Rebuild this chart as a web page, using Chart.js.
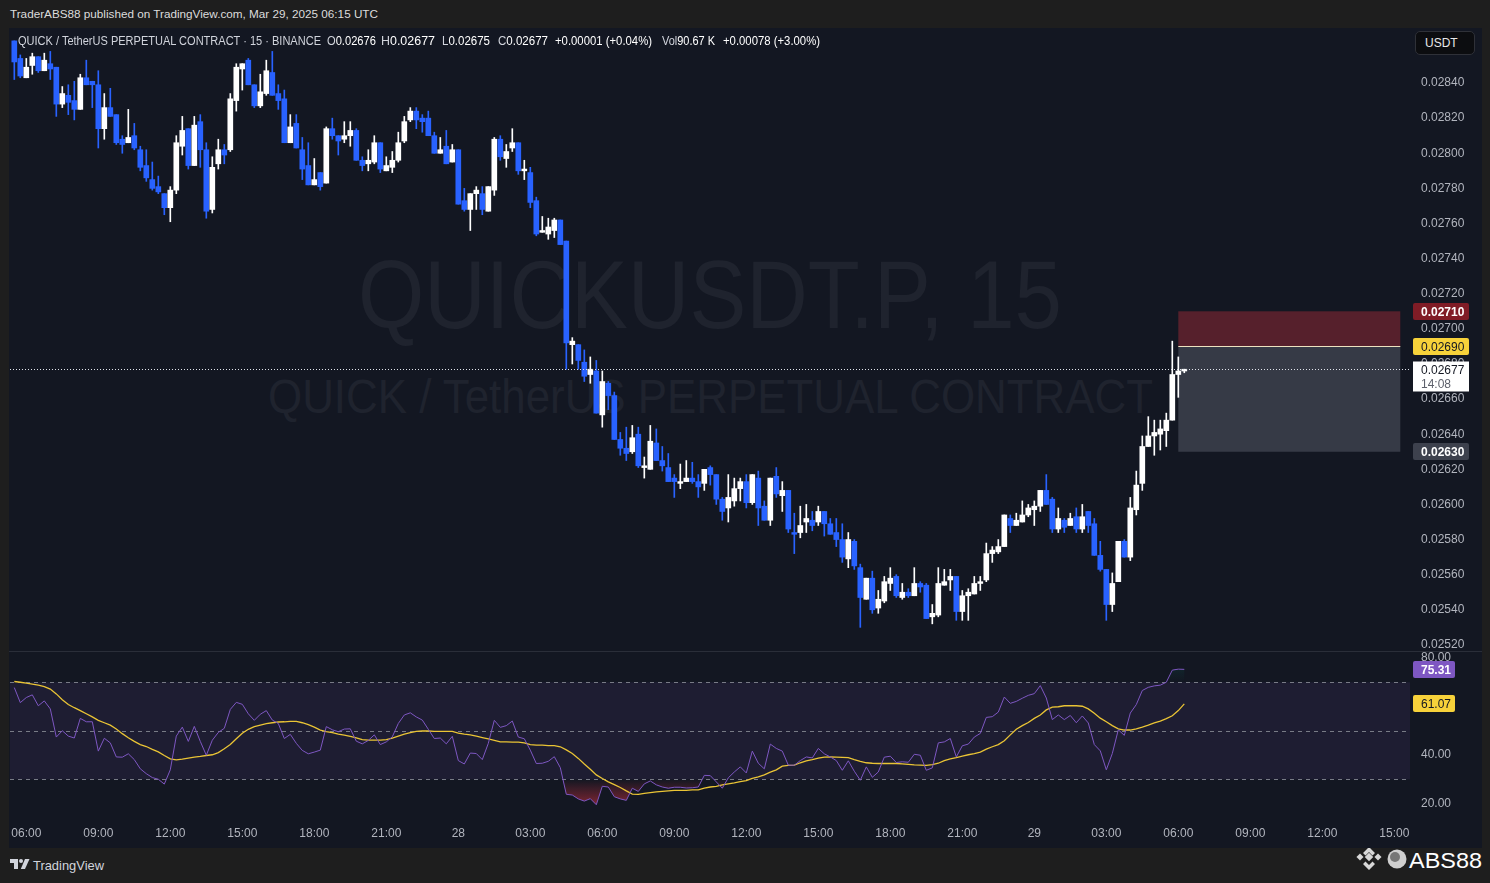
<!DOCTYPE html>
<html>
<head>
<meta charset="utf-8">
<script src="https://cdn.jsdelivr.net/npm/chart.js@4.4.1/dist/chart.umd.min.js"></script>
<style>
  body {
    margin: 0;
    width: 1490px;
    height: 883px;
    background: #1e1e1e;
    position: relative;
    overflow: hidden;
    font-family: 'Liberation Sans', Arial, sans-serif;
  }
  .abs { position: absolute; }
  #panel { left: 9px; top: 28px; width: 1473px; height: 820px; background: #131722; }
  #sep { left: 9px; top: 651px; width: 1473px; height: 1px; background: #2a2e39; }
  #usdt {
    left: 1415px; top: 31px; width: 60px; height: 24px; box-sizing: border-box;
    background: #0c0d10; border: 1px solid #2f3138; border-radius: 5px;
    color: #e8e8e8; font-size: 12px; line-height: 22px; padding-left: 9px;
  }
</style>
</head>
<body>
<div class="abs" id="panel"></div>
<svg class="abs" style="left:0;top:0" width="1490" height="883" font-family="Liberation Sans, Arial, sans-serif">
  <text x="10" y="18" font-size="11.5" fill="#dcdcdc" textLength="368" lengthAdjust="spacingAndGlyphs">TraderABS88 published on TradingView.com, Mar 29, 2025 06:15 UTC</text>
  <text x="358" y="328" font-size="96" fill="#1f232e" textLength="704" lengthAdjust="spacingAndGlyphs">QUICKUSDT.P, 15</text>
  <text x="268" y="413" font-size="48" fill="#1f232e" textLength="885" lengthAdjust="spacingAndGlyphs">QUICK / TetherUS PERPETUAL CONTRACT</text>
</svg>
<div class="abs" id="sep"></div>
<canvas id="price" class="abs" width="1472" height="620" style="left:10px;top:30px"></canvas>
<canvas id="rsi" class="abs" width="1472" height="196" style="left:10px;top:652px"></canvas>
<svg class="abs" style="left:0;top:0" width="830" height="55" font-family="Liberation Sans, Arial, sans-serif" font-size="12">
  <text x="18" y="45" fill="#d1d4dc" textLength="303" lengthAdjust="spacingAndGlyphs">QUICK / TetherUS PERPETUAL CONTRACT · 15 · BINANCE</text>
  <text x="327" y="45" textLength="49" lengthAdjust="spacingAndGlyphs"><tspan fill="#d1d4dc">O</tspan><tspan fill="#fff">0.02676</tspan></text>
  <text x="381" y="45" textLength="54" lengthAdjust="spacingAndGlyphs"><tspan fill="#d1d4dc">H</tspan><tspan fill="#fff">0.02677</tspan></text>
  <text x="442" y="45" textLength="48" lengthAdjust="spacingAndGlyphs"><tspan fill="#d1d4dc">L</tspan><tspan fill="#fff">0.02675</tspan></text>
  <text x="498" y="45" textLength="50" lengthAdjust="spacingAndGlyphs"><tspan fill="#d1d4dc">C</tspan><tspan fill="#fff">0.02677</tspan></text>
  <text x="555" y="45" fill="#fff" textLength="97" lengthAdjust="spacingAndGlyphs">+0.00001 (+0.04%)</text>
  <text x="662" y="45" textLength="53" lengthAdjust="spacingAndGlyphs"><tspan fill="#d1d4dc">Vol</tspan><tspan fill="#fff">90.67 K</tspan></text>
  <text x="723" y="45" fill="#fff" textLength="97" lengthAdjust="spacingAndGlyphs">+0.00078 (+3.00%)</text>
</svg>
<div class="abs" id="usdt">USDT</div>
<svg class="abs" style="left:0;top:848px" width="1490" height="35" font-family="Liberation Sans, Arial, sans-serif">
  <g fill="#d1d4dc" transform="translate(10,11)">
    <path d="M0 0h8v10h-4v-6H0z"/>
    <circle cx="11" cy="2" r="2"/>
    <path d="M15 0h4.5l-4.5 10h-4.2z"/>
  </g>
  <text x="33" y="22" font-size="13" fill="#d1d4dc" textLength="71" lengthAdjust="spacingAndGlyphs">TradingView</text>
  <g fill="#d8d8d8" transform="translate(1369,9)">
    <rect x="-3" y="-3" width="6" height="6" transform="rotate(45)"/>
    <rect x="-2.5" y="-2.5" width="5" height="5" transform="translate(-9,0) rotate(45)"/>
    <rect x="-2.5" y="-2.5" width="5" height="5" transform="translate(9,0) rotate(45)"/>
    <path d="M0 -10l6 6-2.5 2.5L0 -5l-3.5 3.5L-6 -4z"/>
    <path d="M0 10l6-6-2.5-2.5L0 5l-3.5-3.5L-6 4z" transform="translate(0,3)"/>
  </g>
  <circle cx="1397" cy="11" r="9.5" fill="#cfcfcf"/>
  <circle cx="1395" cy="9" r="5" fill="#777"/>
  <text x="1409" y="20" font-size="22" fill="#ffffff" textLength="73" lengthAdjust="spacingAndGlyphs">ABS88</text>
</svg>
<script>
// QUICKUSDT.P 15m candles, Mar 27 05:30 -> Mar 29 06:15 UTC.
// Prices in units of 0.00001 USDT.
const opens = [
  2864, 2854, 2843, 2850, 2855, 2847, 2851, 2849, 2828, 2833,
  2830, 2825, 2843, 2841, 2839, 2814, 2826, 2822, 2808, 2806,
  2810, 2802, 2793, 2785, 2781, 2777, 2769, 2779, 2804, 2814,
  2793, 2818, 2802, 2768, 2794, 2802, 2802, 2830, 2848, 2853,
  2839, 2827, 2834, 2846, 2834, 2831, 2806, 2817, 2802, 2793,
  2782, 2789, 2783, 2814, 2810, 2808, 2810, 2813, 2796, 2794,
  2795, 2806, 2790, 2792, 2796, 2807, 2819, 2824, 2820, 2820,
  2810, 2800, 2804, 2795, 2802, 2773, 2768, 2777, 2777, 2767,
  2779, 2808, 2797, 2803, 2806, 2790, 2789, 2773, 2755, 2754,
  2756, 2762, 2750, 2691, 2691, 2681, 2674, 2676, 2651, 2669,
  2662, 2637, 2632, 2630, 2640, 2621, 2620, 2635, 2625, 2621,
  2615, 2612, 2613, 2615, 2613, 2612, 2621, 2617, 2603, 2598,
  2602, 2609, 2613, 2601, 2615, 2599, 2591, 2616, 2605, 2608,
  2584, 2584, 2590, 2591, 2590, 2596, 2589, 2584, 2580, 2569,
  2579, 2564, 2546, 2558, 2541, 2545, 2555, 2559, 2547, 2550,
  2548, 2555, 2554, 2536, 2537, 2554, 2557, 2559, 2539, 2548,
  2549, 2555, 2557, 2572, 2573, 2576, 2592, 2588, 2590, 2594,
  2597, 2599, 2608, 2603, 2586, 2591, 2588, 2593, 2586, 2596,
  2589, 2571, 2563, 2543, 2556, 2579, 2570, 2597, 2612, 2633,
  2639, 2640, 2642, 2648, 2674, 2676,
];
const highs = [
  2864, 2856, 2854, 2857, 2855, 2857, 2858, 2849, 2838, 2839,
  2841, 2845, 2853, 2841, 2847, 2834, 2837, 2822, 2810, 2825,
  2817, 2804, 2802, 2795, 2787, 2777, 2781, 2810, 2821, 2814,
  2821, 2822, 2806, 2798, 2808, 2805, 2834, 2851, 2851, 2854,
  2839, 2845, 2853, 2858, 2839, 2836, 2822, 2822, 2809, 2806,
  2797, 2789, 2815, 2820, 2810, 2818, 2818, 2814, 2798, 2802,
  2810, 2806, 2798, 2801, 2812, 2821, 2826, 2826, 2822, 2824,
  2812, 2809, 2813, 2805, 2802, 2780, 2777, 2781, 2781, 2781,
  2809, 2810, 2805, 2814, 2806, 2796, 2792, 2775, 2764, 2763,
  2763, 2762, 2750, 2695, 2691, 2688, 2684, 2682, 2676, 2670,
  2664, 2641, 2644, 2645, 2644, 2627, 2645, 2643, 2633, 2629,
  2617, 2623, 2625, 2624, 2617, 2620, 2622, 2617, 2604, 2617,
  2615, 2615, 2617, 2617, 2619, 2602, 2615, 2621, 2613, 2608,
  2595, 2599, 2600, 2596, 2599, 2596, 2592, 2592, 2589, 2584,
  2580, 2566, 2558, 2562, 2551, 2559, 2564, 2560, 2555, 2552,
  2564, 2556, 2555, 2543, 2564, 2563, 2563, 2559, 2551, 2552,
  2559, 2559, 2578, 2576, 2580, 2594, 2594, 2595, 2602, 2600,
  2602, 2608, 2617, 2604, 2598, 2592, 2595, 2598, 2600, 2596,
  2592, 2579, 2563, 2561, 2579, 2580, 2604, 2619, 2639, 2650,
  2648, 2648, 2652, 2693, 2684, 2677,
];
const lows = [
  2842, 2843, 2843, 2845, 2846, 2847, 2842, 2821, 2826, 2822,
  2819, 2825, 2839, 2826, 2803, 2808, 2821, 2805, 2800, 2806,
  2802, 2790, 2784, 2779, 2777, 2765, 2761, 2777, 2799, 2791,
  2793, 2792, 2763, 2766, 2791, 2794, 2801, 2824, 2836, 2839,
  2826, 2826, 2833, 2833, 2825, 2806, 2806, 2803, 2785, 2782,
  2782, 2779, 2783, 2808, 2799, 2806, 2804, 2796, 2790, 2790,
  2794, 2789, 2790, 2789, 2795, 2806, 2818, 2814, 2812, 2810,
  2800, 2800, 2794, 2795, 2771, 2767, 2756, 2768, 2765, 2767,
  2776, 2796, 2792, 2801, 2788, 2785, 2769, 2753, 2755, 2751,
  2752, 2748, 2677, 2680, 2677, 2670, 2669, 2652, 2644, 2654,
  2637, 2628, 2625, 2629, 2621, 2615, 2620, 2625, 2619, 2613,
  2604, 2609, 2613, 2612, 2604, 2608, 2611, 2600, 2591, 2590,
  2599, 2602, 2598, 2600, 2588, 2591, 2588, 2604, 2596, 2584,
  2572, 2581, 2584, 2585, 2588, 2582, 2583, 2576, 2567, 2564,
  2563, 2530, 2546, 2538, 2538, 2544, 2551, 2547, 2546, 2547,
  2548, 2550, 2535, 2532, 2536, 2554, 2551, 2534, 2534, 2534,
  2549, 2551, 2556, 2567, 2572, 2576, 2584, 2588, 2590, 2593,
  2588, 2596, 2600, 2584, 2584, 2584, 2588, 2584, 2584, 2584,
  2571, 2562, 2534, 2539, 2556, 2570, 2568, 2594, 2608, 2633,
  2628, 2631, 2633, 2648, 2661, 2675,
];
const closes = [
  2852, 2844, 2849, 2855, 2847, 2853, 2848, 2828, 2834, 2829,
  2825, 2843, 2839, 2839, 2814, 2826, 2821, 2806, 2805, 2809,
  2803, 2792, 2786, 2780, 2778, 2769, 2779, 2806, 2813, 2793,
  2816, 2802, 2767, 2792, 2802, 2799, 2831, 2849, 2851, 2839,
  2827, 2835, 2847, 2833, 2830, 2806, 2815, 2803, 2791, 2782,
  2785, 2781, 2814, 2810, 2807, 2810, 2813, 2796, 2793, 2796,
  2806, 2791, 2793, 2796, 2806, 2818, 2824, 2819, 2818, 2810,
  2800, 2802, 2794, 2802, 2771, 2768, 2777, 2779, 2768, 2781,
  2808, 2798, 2801, 2806, 2790, 2791, 2772, 2754, 2756, 2758,
  2762, 2748, 2692, 2693, 2682, 2673, 2677, 2652, 2670, 2662,
  2637, 2632, 2629, 2638, 2622, 2622, 2636, 2625, 2622, 2613,
  2613, 2613, 2615, 2613, 2610, 2620, 2617, 2603, 2596, 2604,
  2609, 2613, 2601, 2617, 2598, 2591, 2615, 2606, 2608, 2586,
  2583, 2588, 2592, 2588, 2596, 2589, 2583, 2580, 2570, 2580,
  2565, 2547, 2558, 2540, 2546, 2556, 2558, 2548, 2550, 2548,
  2555, 2553, 2535, 2538, 2555, 2556, 2559, 2539, 2548, 2550,
  2555, 2556, 2572, 2574, 2576, 2594, 2588, 2591, 2594, 2598,
  2599, 2608, 2600, 2586, 2592, 2587, 2592, 2586, 2593, 2588,
  2571, 2563, 2543, 2555, 2579, 2570, 2598, 2611, 2633, 2639,
  2641, 2643, 2648, 2674, 2676, 2677,
];
// RSI 14 and its moving average, one value per candle.
const rsiValues = [
  67.8, 61.6, 63.7, 64.8, 60.3, 62.3, 59.0, 47.4, 50.0, 47.8,
  47.0, 55.1, 53.7, 53.7, 41.6, 46.9, 45.0, 39.2, 39.1, 40.5,
  38.1, 34.3, 32.3, 30.7, 30.0, 28.0, 33.9, 47.8, 51.5, 45.6,
  51.8, 45.6, 39.9, 46.1, 49.3, 51.0, 58.8, 61.7, 60.9, 57.0,
  54.3, 56.8, 58.3, 54.4, 53.0, 46.8, 48.5, 44.8, 41.9, 40.5,
  41.2, 42.0, 51.7, 50.4, 49.6, 50.7, 50.8, 45.7, 44.6, 46.0,
  48.3, 44.3, 45.4, 47.5, 53.0, 56.5, 57.4, 55.7, 54.4, 50.6,
  46.8, 47.0, 44.6, 47.7, 37.7, 36.3, 40.8, 40.6, 38.1, 44.8,
  54.3, 51.4, 52.1, 54.0, 47.4, 46.7, 42.0, 36.5, 36.6, 37.4,
  39.3, 34.8, 23.8, 23.5, 21.9, 21.0, 22.0, 19.5, 27.1, 26.8,
  22.8, 21.9, 21.3, 26.3, 25.0, 28.1, 29.3, 27.7, 26.8, 26.3,
  26.7, 26.7, 26.4, 26.5, 26.8, 31.6, 31.5, 28.9, 26.3, 30.6,
  33.0, 35.1, 32.6, 41.6, 36.6, 34.3, 44.5, 42.7, 41.6, 35.8,
  35.8, 37.7, 39.2, 38.8, 42.7, 40.5, 39.2, 37.7, 33.7, 37.6,
  33.3, 29.6, 35.1, 30.8, 33.0, 39.1, 39.5, 36.9, 37.2, 37.0,
  40.3, 39.9, 33.7, 34.7, 45.0, 45.4, 46.8, 39.2, 43.8, 44.5,
  47.4, 48.9, 55.5, 55.8, 57.7, 63.9, 61.3, 62.1, 63.4, 64.6,
  65.3, 68.6, 63.5, 54.6, 56.5, 54.6, 56.3, 53.3, 56.1, 53.2,
  44.3, 41.7, 33.9, 40.6, 50.4, 48.1, 57.3, 60.8, 66.6, 67.9,
  68.5, 68.8, 70.0, 75.0, 75.4, 75.31,
];
const rsiMa = [
  70.3, 70.0, 69.6, 69.2, 68.8, 68.2, 67.2, 65.2, 62.8, 60.8,
  59.5, 58.3, 57.0, 55.7, 54.3, 53.3, 52.3, 50.7, 48.8, 47.1,
  45.6, 44.3, 43.5, 42.3, 41.3, 39.8, 38.4, 38.0, 38.3, 38.7,
  39.1, 39.4, 39.8, 40.1, 41.0, 42.6, 44.3, 46.7, 49.0, 50.6,
  51.7, 52.3, 52.9, 53.3, 53.6, 53.7, 53.9, 53.9, 53.3, 52.5,
  51.5, 50.3, 49.6, 49.2, 48.6, 48.2, 47.7, 47.1, 46.3, 46.1,
  46.1, 46.1, 46.3, 47.0, 47.8, 48.6, 49.2, 49.7, 49.9, 49.9,
  49.7, 49.7, 49.7, 49.7, 49.0, 48.6, 48.3, 47.8, 47.2, 46.6,
  46.0, 45.4, 45.4, 45.3, 45.3, 45.0, 44.3, 44.1, 44.1, 43.9,
  43.9, 43.4, 42.1, 40.6, 38.6, 36.3, 34.1, 31.8, 30.3, 28.9,
  27.8, 26.6, 25.2, 23.9, 23.8, 24.2, 24.5, 24.8, 25.0, 25.2,
  25.4, 25.4, 25.4, 25.6, 25.6, 26.3, 26.8, 27.1, 27.7, 28.1,
  28.5, 29.0, 29.4, 30.4, 31.0, 31.8, 32.9, 33.9, 35.4, 35.7,
  35.8, 36.8, 37.6, 38.1, 38.7, 39.1, 39.2, 39.1, 39.0, 38.9,
  38.1, 37.4, 36.8, 36.6, 36.5, 36.5, 36.5, 36.5, 36.3, 36.1,
  35.9, 35.8, 35.7, 36.0, 36.6, 37.7, 38.4, 38.9, 39.5, 40.1,
  40.6, 41.2, 42.4, 43.4, 44.3, 45.9, 48.3, 50.6, 52.1, 53.4,
  55.1, 56.5, 58.6, 59.7, 59.9, 60.3, 60.3, 60.3, 60.1, 59.0,
  57.2, 55.2, 53.7, 52.1, 50.8, 50.3, 50.3, 50.8, 51.5, 52.3,
  53.2, 54.0, 55.0, 56.2, 58.3, 61.07,
];
// Time axis: first label on candle 2, then every 12 candles (3h).
const timeLabels = [
  '06:00', '09:00', '12:00', '15:00', '18:00', '21:00', '28', '03:00',
  '06:00', '09:00', '12:00', '15:00', '18:00', '21:00', '29', '03:00',
  '06:00', '09:00', '12:00', '15:00',
];
const priceTicks = [
  0.0252, 0.0254, 0.0256, 0.0258, 0.026, 0.0262, 0.0264, 0.0266, 0.0268,
  0.027, 0.0272, 0.0274, 0.0276, 0.0278, 0.028, 0.0282, 0.0284,
];
const rsiTicks = [20, 40, 60, 80];
// Long position drawing and live price.
const stopPrice = 0.0271;
const entryPrice = 0.0269;
const targetPrice = 0.0263;
const lastPrice = 0.02677;
const countdown = '14:08';
const positionFrom = 194;
const positionTo = 231;

const UP = '#ffffff';
const DOWN = '#2962ff';
const AXIS_TEXT = '#b2b5be';
const FONT = "'Liberation Sans', Arial, sans-serif";
const X_MIN = -0.717;
const X_MAX = 232.617;

const idx = closes.map((_, i) => i);
const toPrice = (v) => v / 1e5;
const candleColors = idx.map((i) => (closes[i] >= opens[i] ? UP : DOWN));

function drawTag(ctx, x, y, w, h, bg, fg, text, bold) {
  ctx.fillStyle = bg;
  ctx.beginPath();
  ctx.roundRect(x, Math.round(y - h / 2), w, h, 2);
  ctx.fill();
  ctx.fillStyle = fg;
  ctx.font = (bold ? 'bold ' : '') + '12px ' + FONT;
  ctx.textBaseline = 'middle';
  ctx.textAlign = 'left';
  ctx.fillText(text, x + 8, y + 1);
}

function fitAxis(width, height) {
  return (s) => {
    if (width) s.width = width;
    if (height) s.height = height;
    s.paddingTop = 0;
    s.paddingBottom = 0;
    s.paddingLeft = 0;
    s.paddingRight = 0;
  };
}

// Shade the area between the RSI line and a level, fading away from the line.
function fillZone(chart, level, edge, rgb, alpha) {
  const {ctx, chartArea, scales: {x, y}} = chart;
  const yLevel = y.getPixelForValue(level);
  const yEdge = y.getPixelForValue(edge);
  const grad = ctx.createLinearGradient(0, yLevel, 0, yEdge);
  grad.addColorStop(0, 'rgba(' + rgb + ',0)');
  grad.addColorStop(1, 'rgba(' + rgb + ',' + alpha + ')');
  ctx.save();
  ctx.beginPath();
  ctx.rect(chartArea.left, Math.min(yLevel, yEdge), chartArea.width, Math.abs(yEdge - yLevel));
  ctx.clip();
  ctx.beginPath();
  ctx.moveTo(x.getPixelForValue(0), yLevel);
  idx.forEach((i) => ctx.lineTo(x.getPixelForValue(i), y.getPixelForValue(rsiValues[i])));
  ctx.lineTo(x.getPixelForValue(idx.length - 1), yLevel);
  ctx.closePath();
  ctx.fillStyle = grad;
  ctx.fill();
  ctx.restore();
}

const priceOverlay = {
  id: 'priceOverlay',
  beforeDatasetsDraw(chart) {
    const {ctx, scales: {x, y}} = chart;
    const left = x.getPixelForValue(positionFrom);
    const right = x.getPixelForValue(positionTo);
    const yStop = y.getPixelForValue(stopPrice);
    const yEntry = y.getPixelForValue(entryPrice);
    const yTarget = y.getPixelForValue(targetPrice);
    ctx.save();
    ctx.fillStyle = 'rgba(242,54,69,0.3)';
    ctx.fillRect(left, yStop, right - left, yEntry - yStop);
    ctx.fillStyle = '#363a46';
    ctx.fillRect(left, yEntry, right - left, yTarget - yEntry);
    ctx.strokeStyle = '#ece3c0';
    ctx.lineWidth = 1;
    ctx.beginPath();
    ctx.moveTo(left, Math.round(yEntry) + 0.5);
    ctx.lineTo(right, Math.round(yEntry) + 0.5);
    ctx.stroke();
    ctx.restore();
  },
  afterDraw(chart) {
    const {ctx, chartArea, scales: {y}} = chart;
    const yLast = Math.round(y.getPixelForValue(lastPrice)) + 0.5;
    ctx.save();
    ctx.strokeStyle = '#e0e3eb';
    ctx.setLineDash([1, 2]);
    ctx.beginPath();
    ctx.moveTo(chartArea.left, yLast);
    ctx.lineTo(chartArea.right, yLast);
    ctx.stroke();
    ctx.setLineDash([]);
    const tx = chartArea.right + 3;
    drawTag(ctx, tx, y.getPixelForValue(stopPrice), 56, 17, '#801c26', '#ffffff', stopPrice.toFixed(5), true);
    drawTag(ctx, tx, y.getPixelForValue(entryPrice), 56, 17, '#f7d23a', '#131722', entryPrice.toFixed(5), false);
    drawTag(ctx, tx, y.getPixelForValue(targetPrice), 56, 17, '#3d414d', '#ffffff', targetPrice.toFixed(5), true);
    // live price with bar countdown
    ctx.fillStyle = '#ffffff';
    ctx.fillRect(tx, yLast - 8, 56, 30);
    ctx.font = '12px ' + FONT;
    ctx.textBaseline = 'middle';
    ctx.fillStyle = '#131722';
    ctx.fillText(lastPrice.toFixed(5), tx + 8, yLast + 1);
    ctx.fillStyle = '#5d606b';
    ctx.fillText(countdown, tx + 8, yLast + 15);
    ctx.restore();
  },
};

const rsiOverlay = {
  id: 'rsiOverlay',
  beforeDatasetsDraw(chart) {
    const {ctx, chartArea, scales: {y}} = chart;
    const y70 = y.getPixelForValue(70);
    const y30 = y.getPixelForValue(30);
    ctx.save();
    ctx.fillStyle = 'rgba(126,87,194,0.1)';
    ctx.fillRect(chartArea.left, y70, chartArea.width, y30 - y70);
    ctx.strokeStyle = '#787b86';
    ctx.lineWidth = 1;
    ctx.setLineDash([4, 4]);
    [70, 50, 30].forEach((v) => {
      const py = Math.round(y.getPixelForValue(v)) + 0.5;
      ctx.beginPath();
      ctx.moveTo(chartArea.left, py);
      ctx.lineTo(chartArea.right, py);
      ctx.stroke();
    });
    ctx.restore();
    fillZone(chart, 30, 18, '242,54,69', 0.55);
    fillZone(chart, 70, 80, '8,153,129', 0.18);
  },
  afterDraw(chart) {
    const {ctx, chartArea, scales: {y}} = chart;
    const tx = chartArea.right + 3;
    const lastRsi = rsiValues[rsiValues.length - 1];
    const lastMa = rsiMa[rsiMa.length - 1];
    ctx.save();
    drawTag(ctx, tx, y.getPixelForValue(lastRsi), 42, 17, '#7e57c2', '#ffffff', lastRsi.toFixed(2), true);
    drawTag(ctx, tx, y.getPixelForValue(lastMa), 42, 17, '#f7d23a', '#131722', lastMa.toFixed(2), false);
    ctx.restore();
  },
};

Chart.defaults.font.family = FONT;

new Chart(document.getElementById('price'), {
  type: 'bar',
  data: {
    datasets: [
      {
        data: idx.map((i) => ({x: i, y: [toPrice(lows[i]), toPrice(highs[i])]})),
        backgroundColor: candleColors,
        barThickness: 1,
        grouped: false,
      },
      {
        data: idx.map((i) => ({x: i, y: [toPrice(opens[i]), toPrice(closes[i])]})),
        backgroundColor: candleColors,
        barThickness: 5,
        minBarLength: 1,
        grouped: false,
      },
    ],
  },
  options: {
    responsive: false,
    animation: false,
    devicePixelRatio: 1,
    layout: {padding: 0},
    plugins: {legend: {display: false}, tooltip: {enabled: false}},
    scales: {
      x: {type: 'linear', min: X_MIN, max: X_MAX, offset: false, display: false},
      y: {
        position: 'right',
        min: 0.025171,
        max: 0.028702,
        grid: {display: false, drawTicks: false},
        border: {display: false},
        ticks: {
          color: AXIS_TEXT,
          font: {size: 12},
          padding: 11,
          autoSkip: false,
          callback: (v) => v.toFixed(5),
        },
        afterBuildTicks: (s) => { s.ticks = priceTicks.map((value) => ({value})); },
        afterFit: fitAxis(72, 0),
      },
    },
  },
  plugins: [priceOverlay],
});

new Chart(document.getElementById('rsi'), {
  type: 'line',
  data: {
    datasets: [
      {
        data: idx.map((i) => ({x: i, y: rsiValues[i]})),
        borderColor: '#7e57c2',
        borderWidth: 1,
        pointRadius: 0,
      },
      {
        data: idx.map((i) => ({x: i, y: rsiMa[i]})),
        borderColor: '#eac435',
        borderWidth: 1.3,
        pointRadius: 0,
      },
    ],
  },
  options: {
    responsive: false,
    animation: false,
    devicePixelRatio: 1,
    layout: {padding: 0},
    plugins: {legend: {display: false}, tooltip: {enabled: false}},
    scales: {
      x: {
        type: 'linear',
        min: X_MIN,
        max: X_MAX,
        offset: false,
        grid: {display: false, drawTicks: false},
        border: {display: false},
        ticks: {
          color: AXIS_TEXT,
          font: {size: 12},
          padding: 11,
          autoSkip: false,
          maxRotation: 0,
          callback: (v, k) => timeLabels[k],
        },
        afterBuildTicks: (s) => {
          s.ticks = timeLabels.map((_, k) => ({value: 2 + 12 * k}));
        },
        afterFit: fitAxis(0, 33),
      },
      y: {
        position: 'right',
        min: 15.26,
        max: 82.47,
        grid: {display: false, drawTicks: false},
        border: {display: false},
        ticks: {
          color: AXIS_TEXT,
          font: {size: 12},
          padding: 11,
          autoSkip: false,
          callback: (v) => v.toFixed(2),
        },
        afterBuildTicks: (s) => { s.ticks = rsiTicks.map((value) => ({value})); },
        afterFit: fitAxis(72, 0),
      },
    },
  },
  plugins: [rsiOverlay],
});
</script>
</body>
</html>
